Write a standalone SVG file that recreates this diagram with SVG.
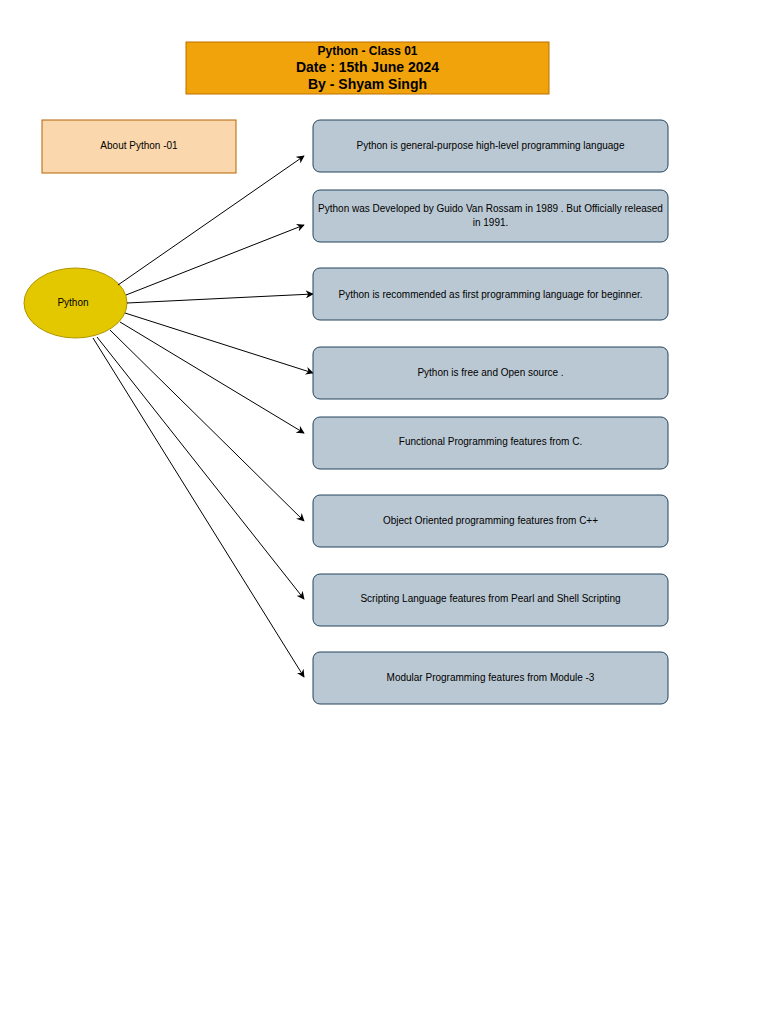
<svg xmlns="http://www.w3.org/2000/svg" width="768" height="1024" viewBox="0 0 768 1024">
<style>
.t{font-family:"Liberation Sans",Arial,sans-serif;fill:#000;text-anchor:middle}
.b{fill:#bac8d3;stroke:#23445d;stroke-width:1}
.s{font-size:10px}
.c{stroke:#000;stroke-width:1;fill:none;marker-end:url(#ah)}
</style>
<defs>
<marker id="ah" viewBox="0 0 10 10" refX="9" refY="5" markerWidth="8" markerHeight="8" orient="auto" markerUnits="userSpaceOnUse">
<path d="M0,0 L10,5 L0,10 L3,5 Z" fill="#000"/>
</marker>
</defs>
<rect width="768" height="1024" fill="#fff"/>
<g id="title">
<rect x="186" y="42" width="363" height="52" fill="#f0a30a" stroke="#bd7000"/>
<text class="t" x="367.5" y="55" font-size="12" font-weight="bold">Python - Class 01</text>
<text class="t" x="367.5" y="72" font-size="14" font-weight="bold">Date : 15th June 2024</text>
<text class="t" x="367.5" y="89" font-size="14" font-weight="bold">By - Shyam Singh</text>
</g>
<g id="about">
<rect x="42" y="120" width="194" height="53" fill="#fad7ac" stroke="#b46504"/>
<text class="t s" x="139" y="149">About Python -01</text>
</g>
<g id="python">
<ellipse cx="75.5" cy="303" rx="51.5" ry="35" fill="#e3c800" stroke="#b09500"/>
<text class="t s" x="73" y="306">Python</text>
</g>
<g id="connectors">
<line class="c" x1="118" y1="285" x2="304" y2="156"/>
<line class="c" x1="126" y1="295" x2="304" y2="225"/>
<line class="c" x1="127" y1="303" x2="313" y2="294"/>
<line class="c" x1="125" y1="313" x2="313" y2="373"/>
<line class="c" x1="120" y1="322" x2="304" y2="433"/>
<line class="c" x1="110" y1="330" x2="304" y2="521"/>
<line class="c" x1="97" y1="337" x2="304" y2="599"/>
<line class="c" x1="93" y1="338" x2="304" y2="677"/>
</g>
<g id="n1">
<rect class="b" x="313" y="120" width="355" height="52" rx="7"/>
<text class="t s" x="490.5" y="149">Python is general-purpose high-level programming language</text>
</g>
<g id="n2">
<rect class="b" x="313" y="190" width="355" height="52" rx="7"/>
<text class="t s" x="490.5" y="212">Python was Developed by Guido Van Rossam in 1989 . But Officially released</text>
<text class="t s" x="490.5" y="226">in 1991.</text>
</g>
<g id="n3">
<rect class="b" x="313" y="268" width="355" height="52" rx="7"/>
<text class="t s" x="490.5" y="298">Python is recommended as first programming language for beginner.</text>
</g>
<g id="n4">
<rect class="b" x="313" y="347" width="355" height="52" rx="7"/>
<text class="t s" x="490.5" y="376">Python is free and Open source .</text>
</g>
<g id="n5">
<rect class="b" x="313" y="417" width="355" height="52" rx="7"/>
<text class="t s" x="490.5" y="445">Functional Programming features from C.</text>
</g>
<g id="n6">
<rect class="b" x="313" y="495" width="355" height="52" rx="7"/>
<text class="t s" x="490.5" y="524">Object Oriented programming features from C++</text>
</g>
<g id="n7">
<rect class="b" x="313" y="574" width="355" height="52" rx="7"/>
<text class="t s" x="490.5" y="602">Scripting Language features from Pearl and Shell Scripting</text>
</g>
<g id="n8">
<rect class="b" x="313" y="652" width="355" height="52" rx="7"/>
<text class="t s" x="490.5" y="681">Modular Programming features from Module -3</text>
</g>
</svg>
